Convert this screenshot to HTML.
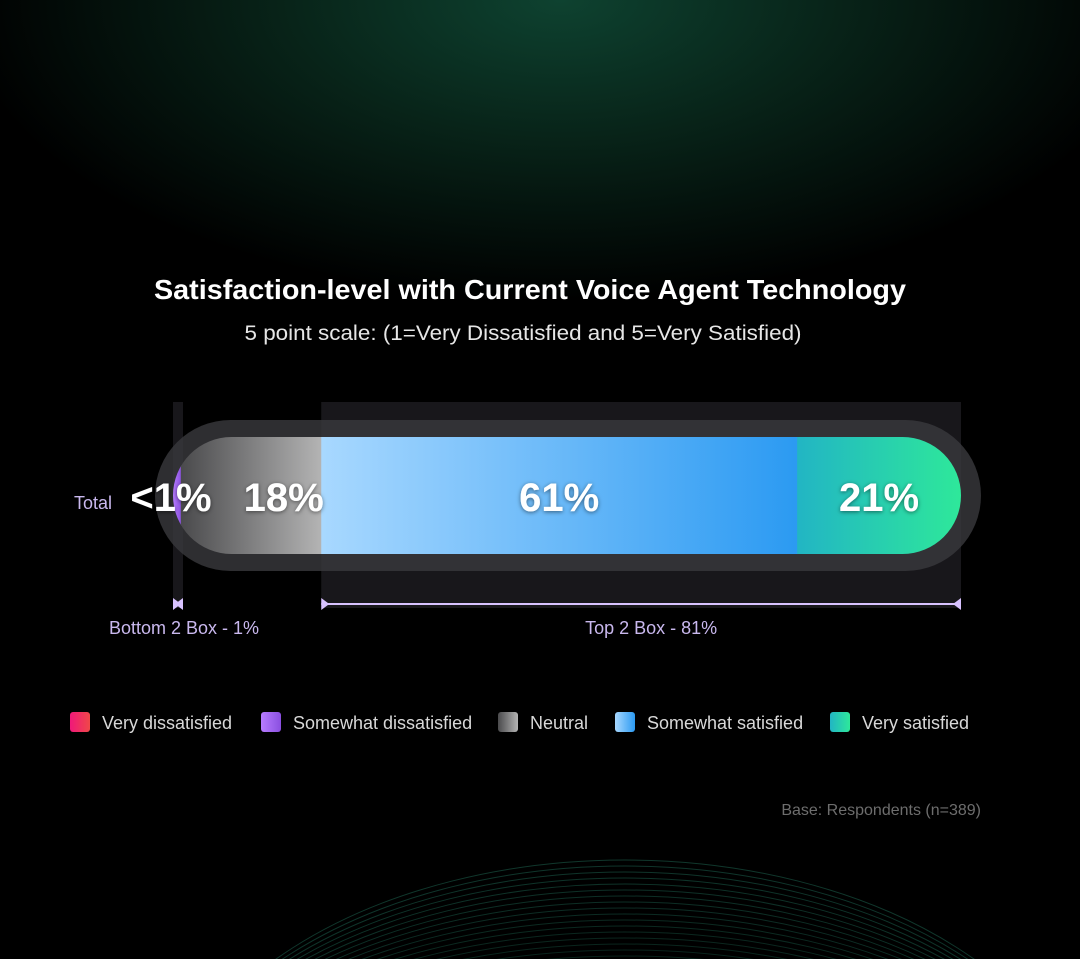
<!DOCTYPE html>
<html><head><meta charset="utf-8"><style>
html,body{margin:0;padding:0;background:#000;width:1080px;height:959px;overflow:hidden}
svg{display:block;font-family:"Liberation Sans",sans-serif}
</style></head><body>
<svg id="chart" width="1080" height="959" viewBox="0 0 1080 959" xmlns="http://www.w3.org/2000/svg">
<defs>
<radialGradient id="bgGlow" cx="560" cy="0" r="600" gradientUnits="userSpaceOnUse" gradientTransform="translate(560 0) scale(1 0.5) translate(-560 0)">
<stop offset="0" stop-color="#0e4230"/><stop offset="0.45" stop-color="#082419"/><stop offset="1" stop-color="#000"/></radialGradient>
<linearGradient id="gNeutral" x1="0" x2="1"><stop offset="0" stop-color="#4a4a4c"/><stop offset="1" stop-color="#b4b4b4"/></linearGradient>
<linearGradient id="gBlue" x1="0" x2="1"><stop offset="0" stop-color="#a8d8ff"/><stop offset="1" stop-color="#2b9af2"/></linearGradient>
<linearGradient id="gTeal" x1="0" x2="1"><stop offset="0" stop-color="#22b5c4"/><stop offset="1" stop-color="#2ee89a"/></linearGradient>
<linearGradient id="gPurple" x1="0" x2="1"><stop offset="0" stop-color="#b77cff"/><stop offset="1" stop-color="#8a4fe0"/></linearGradient>
<linearGradient id="gRed" x1="0" x2="1"><stop offset="0" stop-color="#f0187a"/><stop offset="1" stop-color="#f04848"/></linearGradient>
<clipPath id="barClip"><rect x="173" y="437" width="788" height="117" rx="58.5"/></clipPath>
<clipPath id="frameClip"><rect x="0" y="0" width="1080" height="959"/></clipPath>
<filter id="ts" x="-20%" y="-20%" width="140%" height="140%"><feDropShadow dx="0" dy="1" stdDeviation="2" flood-color="#000" flood-opacity="0.5"/></filter>
</defs>
<rect width="1080" height="959" fill="#000"/>
<rect width="1080" height="400" fill="url(#bgGlow)"/>
<g id="arcs" clip-path="url(#frameClip)"></g>
<text x="530" y="299" fill="#fff" font-size="28" font-weight="bold" text-anchor="middle" textLength="752" lengthAdjust="spacingAndGlyphs">Satisfaction-level with Current Voice Agent Technology</text>
<text x="523" y="340" fill="#e6e6e6" font-size="21" text-anchor="middle" textLength="557" lengthAdjust="spacingAndGlyphs">5 point scale: (1=Very Dissatisfied and 5=Very Satisfied)</text>
<g id="boxes"></g>
<rect x="155" y="420" width="826" height="151" rx="75.5" fill="#3a3a3d" fill-opacity="0.8"/>
<g id="segs" clip-path="url(#barClip)"></g>
<text x="93" y="509" fill="#c9b8ee" font-size="18" text-anchor="middle">Total</text>
<g id="labels"></g>
<g id="legend"></g>
<text x="981" y="815" fill="#6d6d6d" font-size="16" text-anchor="end">Base: Respondents (n=389)</text>
</svg>
<script>
const categories = ["Very dissatisfied","Somewhat dissatisfied","Neutral","Somewhat satisfied","Very satisfied"];
const values = [0, 1, 18, 61, 21];
const valueLabels = ["", "<1%", "18%", "61%", "21%"];
const boxLabels = ["Bottom 2 Box - 1%", "Top 2 Box - 81%"];
const fills = ["url(#gRed)","url(#gPurple)","url(#gNeutral)","url(#gBlue)","url(#gTeal)"];
const legendX = [70, 261, 498, 615, 830];

const NS = "http://www.w3.org/2000/svg";
function mk(tag, attrs, parent){const e=document.createElementNS(NS,tag);for(const k in attrs)e.setAttribute(k,attrs[k]);parent.appendChild(e);return e;}
const X0=173, X1=961;
const total = values.reduce((a,b)=>a+b,0);
const xs = v => X0 + (X1-X0)*v/total;
const cum=[0]; values.forEach(v=>cum.push(cum[cum.length-1]+v));

// arcs
const arcs=document.getElementById('arcs');
for(let i=0;i<30;i++){
  const p=mk('ellipse',{cx:625,cy:860+i*6+300,rx:470+i*3,ry:300,fill:'none',stroke:'#1f6e58','stroke-opacity':(0.5-i*0.012).toFixed(3),'stroke-width':1},arcs);
  
  
}

// box overlays
const boxes=document.getElementById('boxes');
const bx=[[xs(cum[0]),xs(cum[2])],[xs(cum[3]),xs(cum[5])]];
bx.forEach((b,i)=>{
  const w=Math.max(b[1]-b[0],10), l=b[0], rr=b[0]+w;
  const r=mk('rect',{x:l,y:402,width:w,height:206,fill:'#1c1b20','fill-opacity':0.85},boxes);
  
  
  const ln=mk('line',{x1:l,y1:604,x2:rr,y2:604,stroke:'#d8c2ff','stroke-width':2},boxes);
  
  
  const t1=mk('path',{d:`M${l} 598 L${l+8} 604 L${l} 610 Z`,fill:'#d8c2ff'},boxes);
  
  
  const t2=mk('path',{d:`M${rr} 598 L${rr-8} 604 L${rr} 610 Z`,fill:'#d8c2ff'},boxes);
  
  
  const tx=mk('text',{x:i===0?184:(l+rr)/2+10,y:634,fill:'#c9b8ee','font-size':18,'text-anchor':'middle'},boxes);
  tx.textContent=boxLabels[i];
  
  
});

// segments
const segs=document.getElementById('segs'), labels=document.getElementById('labels');
let prevRight=-1e9;
values.forEach((v,i)=>{
  if(v<=0) return;
  const x=xs(cum[i]), w=xs(cum[i+1])-x;
  const r=mk('rect',{x:x, y:437, width:w+(i<4?0.5:0), height:117, fill:fills[i]},segs);
  
  
  let cx = (i===1) ? x - 2 : x + w/2;
  const t=mk('text',{x:cx,y:511,fill:'#fff','font-size':40,'font-weight':'bold','text-anchor':'middle',filter:'url(#ts)'},labels);
  t.textContent=valueLabels[i];
  
  
  const half=t.getComputedTextLength()/2;
  if(cx-half < prevRight+32){cx=prevRight+32+half;t.setAttribute('x',cx);}
  prevRight=cx+half;
});

// legend
const lg=document.getElementById('legend');
categories.forEach((c,i)=>{
  const g=mk('g',{},lg);
  
  
  const s=mk('rect',{x:legendX[i],y:712,width:20,height:20,rx:3,fill:fills[i]},g);
  
  
  const t=mk('text',{x:legendX[i]+32,y:729,fill:'#d8d8d8','font-size':18},g);
  t.textContent=c;
  
  
});
</script>
</body></html>
